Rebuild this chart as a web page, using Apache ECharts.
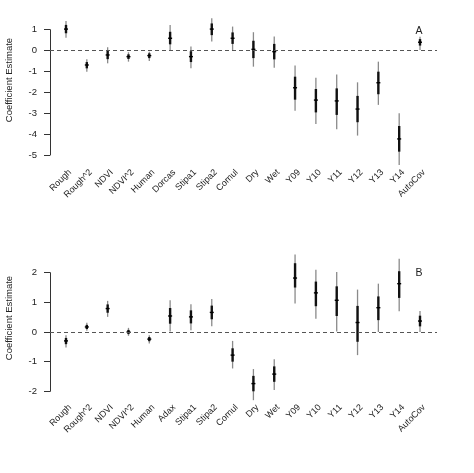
<!DOCTYPE html>
<html>
<head>
<meta charset="utf-8">
<script src="https://cdn.jsdelivr.net/npm/echarts@6/dist/echarts.min.js"></script>
<style>html,body{margin:0;padding:0;background:#fff}#c{width:474px;height:473px}</style>
</head>
<body>
<div id="c"></div>
<script>
// ---- Data ----
const catsA = ["Rough","Rough^2","NDVI","NDVI^2","Human","Dorcas","Stipa1","Stipa2","Cornul","Dry","Wet","Y09","Y10","Y11","Y12","Y13","Y14","AutoCov"];
const estA  = [1.03,-0.69,-0.21,-0.29,-0.24,0.59,-0.29,1.03,0.59,0.06,-0.05,-1.78,-2.37,-2.41,-2.80,-1.54,-4.23,0.40];
const loA   = [0.62,-1.01,-0.61,-0.53,-0.50,0.03,-0.85,0.43,0.03,-0.77,-0.82,-2.88,-3.52,-3.77,-4.07,-2.60,-5.48,0.03];
const hiA   = [1.42,-0.42,0.16,-0.08,-0.05,1.23,0.19,1.55,1.15,0.88,0.67,-0.72,-1.30,-1.14,-1.52,-0.53,-3.00,0.66];
const inLoA = [0.83,-0.85,-0.41,-0.40,-0.36,0.30,-0.55,0.74,0.32,-0.36,-0.42,-2.35,-2.96,-3.08,-3.43,-2.09,-4.84,0.24];
const inHiA = [1.23,-0.55,0.00,-0.18,-0.13,0.90,-0.03,1.30,0.87,0.47,0.32,-1.25,-1.84,-1.81,-2.17,-1.01,-3.61,0.55];

const catsB = ["Rough","Rough^2","NDVI","NDVI^2","Human","Adax","Stipa1","Stipa2","Cornul","Dry","Wet","Y09","Y10","Y11","Y12","Y13","Y14","AutoCov"];
const estB  = [-0.30,0.17,0.79,0.00,-0.24,0.54,0.51,0.66,-0.78,-1.74,-1.42,1.82,1.32,1.07,0.32,0.82,1.63,0.37];
const loB   = [-0.52,0.04,0.51,-0.13,-0.39,0.02,0.06,0.19,-1.23,-2.30,-1.96,0.96,0.45,0.02,-0.78,0.00,0.70,0.00];
const hiB   = [-0.11,0.31,1.05,0.14,-0.11,1.07,0.94,1.11,-0.30,-1.25,-0.92,2.61,2.10,2.02,1.43,1.63,2.47,0.71];
const inLoB = [-0.41,0.10,0.65,-0.07,-0.31,0.28,0.29,0.43,-1.00,-2.00,-1.68,1.50,0.87,0.54,-0.33,0.40,1.15,0.19];
const inHiB = [-0.20,0.24,0.93,0.07,-0.17,0.81,0.73,0.89,-0.55,-1.48,-1.16,2.32,1.70,1.54,0.88,1.20,2.05,0.55];

const yTicksA = {min:-5, max:1};
const yTicksB = {min:-2, max:2};
const yTitle = "Coefficient Estimate";

function rows(est, lo, hi, il, ih){
  return est.map((e,i)=>[i+1, e, lo[i], hi[i], il[i], ih[i]]);
}

function renderItem(params, api){
  const x = api.value(0);
  const pE = api.coord([x, api.value(1)]);
  const pL = api.coord([x, api.value(2)]);
  const pH = api.coord([x, api.value(3)]);
  const pIL = api.coord([x, api.value(4)]);
  const pIH = api.coord([x, api.value(5)]);
  return {
    type:'group',
    children:[
      {type:'line', shape:{x1:pL[0],y1:pL[1],x2:pH[0],y2:pH[1]}, style:{stroke:'#8a8a8a', lineWidth:1.3}},
      {type:'line', shape:{x1:pIL[0],y1:pIL[1],x2:pIH[0],y2:pIH[1]}, style:{stroke:'#111', lineWidth:2.4}},
      {type:'line', shape:{x1:pE[0]-2,y1:pE[1],x2:pE[0]+2,y2:pE[1]}, style:{stroke:'#000', lineWidth:1.4}}
    ]
  };
}

const FONT = 'Liberation Sans';
const xMin = 0.2317, xMax = 18.816;

function yAxisCfg(gi, r){
  return {
    type:'value', gridIndex:gi, min:r.min, max:r.max, interval:1,
    axisLine:{show:true, lineStyle:{color:'#333', width:1}},
    axisTick:{show:true, inside:false, length:6, lineStyle:{color:'#333'}},
    axisLabel:{fontSize:9.5, color:'#222', fontFamily:FONT, margin:13},
    splitLine:{show:false}
  };
}
function dashLine(){
  return {silent:true, symbol:'none', label:{show:false},
    lineStyle:{type:[4,3], color:'#555', width:1}, data:[{yAxis:0}]};
}
function labelAxis(gi, cats){
  return {type:'category', gridIndex:gi, data:cats, boundaryGap:true,
    axisLine:{show:false}, axisTick:{show:false},
    axisLabel:{rotate:45, fontSize:9, color:'#222', fontFamily:FONT, margin:6, interval:0}};
}

const option = {
  animation:false,
  backgroundColor:'#fff',
  grid:[
    {left:50, width:387, top:29.7, height:125.3},
    {left:50, width:387, top:272.7, height:118.6},
    {left:59.6, width:374.8, top:100, height:65},
    {left:59.6, width:374.8, top:340, height:60}
  ],
  xAxis:[
    {type:'value', gridIndex:0, min:xMin, max:xMax, show:false},
    {type:'value', gridIndex:1, min:xMin, max:xMax, show:false},
    labelAxis(2, catsA),
    labelAxis(3, catsB)
  ],
  yAxis:[
    yAxisCfg(0, yTicksA),
    yAxisCfg(1, yTicksB),
    {type:'value', gridIndex:2, show:false},
    {type:'value', gridIndex:3, show:false}
  ],
  graphic:[
    {type:'text', left:null, x:9, y:80, rotation:Math.PI/2,
      style:{text:yTitle, fontSize:9.5, fontFamily:FONT, fill:'#222', textAlign:'center', textVerticalAlign:'middle'}},
    {type:'text', x:9, y:318, rotation:Math.PI/2,
      style:{text:yTitle, fontSize:9.5, fontFamily:FONT, fill:'#222', textAlign:'center', textVerticalAlign:'middle'}},
    {type:'text', x:419, y:31, style:{text:'A', fontSize:10.5, fontFamily:FONT, fill:'#222', textAlign:'center', textVerticalAlign:'middle'}},
    {type:'text', x:419, y:273, style:{text:'B', fontSize:10.5, fontFamily:FONT, fill:'#222', textAlign:'center', textVerticalAlign:'middle'}}
  ],
  series:[
    {type:'custom', xAxisIndex:0, yAxisIndex:0, clip:false, renderItem, data:rows(estA,loA,hiA,inLoA,inHiA),
      encode:{x:0,y:[1,2,3]}, markLine:dashLine(), z:3},
    {type:'custom', xAxisIndex:1, yAxisIndex:1, clip:false, renderItem, data:rows(estB,loB,hiB,inLoB,inHiB),
      encode:{x:0,y:[1,2,3]}, markLine:dashLine(), z:3}
  ]
};
const chart = echarts.init(document.getElementById('c'), null, {renderer:'canvas'});
chart.setOption(option);
</script>
</body>
</html>
